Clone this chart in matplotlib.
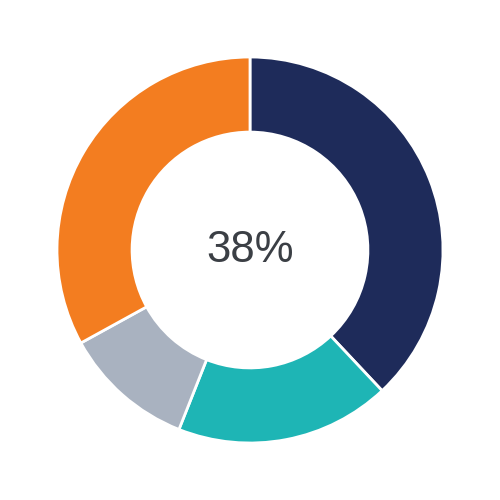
import matplotlib
matplotlib.use("Agg")
import matplotlib.pyplot as plt

labels = ["A", "B", "C", "D"]
values = [38, 18, 11, 33]
colors = ["#1e2b5a", "#1eb5b5", "#a9b2c0", "#f37d20"]
center_text = "38%"

fig = plt.figure(figsize=(5, 5), dpi=100)
ax = fig.add_axes([0, 0, 1, 1])
ax.pie(values, colors=colors, startangle=90, counterclock=False,
       radius=1.0, wedgeprops=dict(width=0.389, edgecolor="white", linewidth=2.0))
lim = 250 / 193
ax.set_xlim(-lim, lim)
ax.set_ylim(-lim, lim)
ax.set_aspect("equal")
ax.axis("off")
ax.text(0, -0.005, center_text, ha="center", va="center", fontsize=31.5,
        color="#3b3f45", family="Liberation Sans")
fig.savefig("out.png", dpi=100)
